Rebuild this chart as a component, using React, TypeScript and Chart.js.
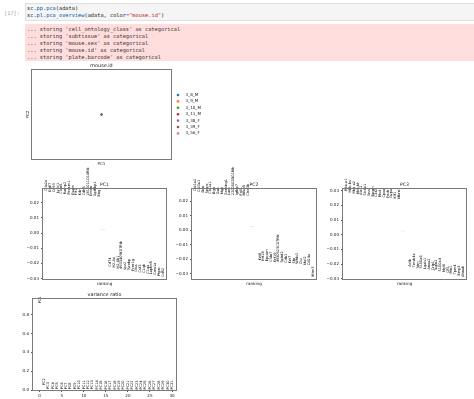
import React, { useEffect, useRef } from "react";
import { Chart, registerables } from "chart.js";

Chart.register(...registerables);

const FONT = '"DejaVu Sans", sans-serif';
const MONO = '"DejaVu Sans Mono", monospace';

// ---------------- data ----------------
const MOUSE_IDS = ["3_8_M", "3_9_M", "3_10_M", "3_11_M", "3_38_F", "3_39_F", "3_56_F"];
const MOUSE_COLORS = ["#1f77b4", "#ff7f0e", "#2ca02c", "#d62728", "#9467bd", "#8c564b", "#e377c2"];
const MOUSE_PC1 = [0, 0, 0, 0, 0, 0, 0];
const MOUSE_PC2 = [0, 0, 0, 0, 0, 0, 0];

const PC1_TOP_GENES = ["Ctla2a", "Egfl7", "Cd93", "Ly6c1", "Cldn5", "Ramp2", "Pecam1", "Esam", "Flt1", "Kdr", "Cdh5", "1810011O10Rik", "Emcn", "Gpihbp1", "Eng"];
const PC1_TOP_SCORES = [0.0276, 0.0272, 0.0268, 0.0264, 0.0259, 0.0256, 0.0254, 0.0252, 0.0251, 0.0249, 0.0248, 0.0246, 0.0245, 0.0243, 0.0241];
const PC1_LOW_GENES = ["Cd74", "H2-Aa", "H2-Ab1", "4933409K07Rik", "Lyz2", "Tyrobp", "Fcer1g", "Ctss", "Cst3", "C1qb", "C1qa", "Laptm5", "Coro1a", "Ptprc", "Cd52"];
const PC1_LOW_SCORES = [-0.0222, -0.0228, -0.0233, -0.0237, -0.0241, -0.0246, -0.0251, -0.0256, -0.026, -0.0264, -0.0268, -0.0272, -0.0277, -0.0283, -0.0289];

const PC2_TOP_GENES = ["Col1a2", "Col3a1", "Dcn", "Sparc", "Col1a1", "Bgn", "Gsn", "Mgp", "Serping1", "Lum", "2200002D01Rik", "Igfbp7", "Fstl1", "Mfap5", "Clec3b"];
const PC2_TOP_SCORES = [0.0269, 0.0262, 0.0258, 0.0254, 0.0251, 0.0249, 0.0247, 0.0246, 0.0244, 0.0243, 0.0241, 0.024, 0.0239, 0.0238, 0.0236];
const PC2_LOW_GENES = ["Krt8", "Krt18", "Epcam", "Cldn7", "Krt19", "4930523C07Rik", "Spint2", "Cdh1", "Krt7", "Sfn", "Wfdc2", "Clu", "Mal2", "Cd24a", "Ifitm3"];
const PC2_LOW_SCORES = [-0.0208, -0.0212, -0.0216, -0.0219, -0.0221, -0.0223, -0.0225, -0.0227, -0.0229, -0.0231, -0.0233, -0.0236, -0.0239, -0.0243, -0.0322];

const PC3_TOP_GENES = ["Hba-a1", "Hbb-bs", "Hba-a2", "Hbb-bt", "Alas2", "Slc4a1", "Snca", "Bpgm", "Car2", "Rhd", "Cpox", "Fech", "Gypa", "Klf1", "Mkrn1"];
const PC3_TOP_SCORES = [0.0297, 0.0288, 0.0281, 0.0276, 0.0271, 0.0267, 0.0264, 0.0261, 0.0258, 0.0256, 0.0254, 0.0252, 0.025, 0.0248, 0.0246];
const PC3_LOW_GENES = ["Actb", "Tmsb4x", "Vim", "S100a6", "Lgals1", "Anxa2", "Crip1", "Tagln2", "S100a4", "Myl6", "Cfl1", "Pfn1", "Tpm4", "Emp3", "Ahnak"];
const PC3_LOW_SCORES = [-0.0219, -0.0223, -0.0227, -0.0231, -0.0234, -0.0238, -0.0242, -0.0246, -0.025, -0.0255, -0.026, -0.0265, -0.0271, -0.0278, -0.0288];

const VAR_LABELS = ["PC1", "PC2", "PC3", "PC4", "PC5", "PC6", "PC7", "PC8", "PC9", "PC10", "PC11", "PC12", "PC13", "PC14", "PC15", "PC16", "PC17", "PC18", "PC19", "PC20", "PC21", "PC22", "PC23", "PC24", "PC25", "PC26", "PC27", "PC28", "PC29", "PC30", "PC31"];
const VAR_RATIO = [0.922, 0.052, 0.0118, 0.0102, 0.0094, 0.0088, 0.0083, 0.0079, 0.0076, 0.0073, 0.0071, 0.0069, 0.0067, 0.0065, 0.0063, 0.0062, 0.006, 0.0059, 0.0058, 0.0057, 0.0056, 0.0055, 0.0054, 0.0053, 0.0052, 0.0051, 0.005, 0.0049, 0.0048, 0.0047, 0.0046];

const LOAD_Y_TICKS = [-0.03, -0.02, -0.01, 0, 0.01, 0.02];
const PC3_Y_TICKS = [-0.03, -0.02, -0.01, 0, 0.01, 0.02, 0.03];
const VAR_Y_TICKS = [0, 0.2, 0.4, 0.6, 0.8];
const VAR_X_TICKS = [0, 5, 10, 15, 20, 25, 30];

const CODE_LINES = ['sc.pp.pca(adata)', 'sc.pl.pca_overview(adata, color="mouse.id")'];
const LOG_LINES = [
  "... storing 'cell_ontology_class' as categorical",
  "... storing 'subtissue' as categorical",
  "... storing 'mouse.sex' as categorical",
  "... storing 'mouse.id' as categorical",
  "... storing 'plate.barcode' as categorical",
];

// ---------------- helpers ----------------
type Box = { left: number; top: number; width: number; height: number };
type Axes = { L: number; T: number; R: number; B: number };

function txt(ctx: CanvasRenderingContext2D, s: string, x: number, y: number, size: number, opts: any = {}) {
  ctx.save();
  ctx.font = `${size}px ${FONT}`;
  ctx.fillStyle = opts.color || "#222";
  ctx.textAlign = opts.align || "center";
  ctx.textBaseline = opts.baseline || "middle";
  ctx.translate(x, y);
  if (opts.rotate) ctx.rotate(opts.rotate);
  ctx.fillText(s, 0, 0);
  ctx.restore();
}

function frame(ctx: CanvasRenderingContext2D, a: any) {
  ctx.save();
  ctx.strokeStyle = "#7a7a7a";
  ctx.lineWidth = 1;
  ctx.strokeRect(Math.round(a.left) - 0.5, Math.round(a.top) - 0.5, Math.round(a.right - a.left) + 1, Math.round(a.bottom - a.top) + 1);
  ctx.restore();
}

const rankTextPlugin = {
  id: "rankText",
  afterDatasetsDraw(chart: any) {
    const ctx = chart.ctx as CanvasRenderingContext2D;
    chart.data.datasets.forEach((ds: any, di: number) => {
      if (!ds.texts) return;
      const meta = chart.getDatasetMeta(di);
      meta.data.forEach((el: any, i: number) => {
        txt(ctx, ds.texts[i], el.x, el.y, ds.textSize || 3.5, {
          color: ds.textColor || "#000",
          align: "left",
          baseline: "middle",
          rotate: -Math.PI / 2,
        });
      });
    });
  },
};

function decor(fn: (ctx: CanvasRenderingContext2D, a: any) => void) {
  return {
    id: "decor",
    afterDraw(chart: any) {
      fn(chart.ctx, chart.chartArea);
    },
  };
}

function pad(c: Box, a: Axes, left0 = true) {
  return {
    left: left0 ? 0 : a.L - c.left,
    top: a.T - c.top,
    right: c.left + c.width - a.R,
    bottom: c.top + c.height - a.B,
  };
}

const fmt2 = (v: number) => (v < 0 ? "\u2212" : "") + Math.abs(v).toFixed(2);
const fmt1 = (v: number) => (v < 0 ? "\u2212" : "") + Math.abs(v).toFixed(1);

function yAxis(c: Box, a: Axes, min: number, max: number, ticks: number[], fmt: (v: number) => string) {
  return {
    type: "linear",
    min,
    max,
    afterFit: (s: any) => {
      s.width = a.L - c.left;
    },
    afterBuildTicks: (s: any) => {
      s.ticks = ticks.map((v) => ({ value: v }));
    },
    ticks: {
      autoSkip: false,
      font: { size: 4.1, family: FONT },
      color: "#222",
      padding: 2,
      callback: (v: any) => fmt(Number(v)),
    },
    grid: { display: true, drawOnChartArea: false, drawTicks: true, tickLength: 2, color: "#555", lineWidth: 1 },
    border: { display: false },
  };
}

function loadingConfig(
  title: string,
  topGenes: string[],
  topScores: number[],
  lowGenes: string[],
  lowScores: number[],
  yMin: number,
  yMax: number,
  yTicks: number[],
  c: Box,
  a: Axes
) {
  const n = topGenes.length;
  const mid = (topScores[n - 1] + lowScores[0]) / 2;
  const xMax = n + 2 + lowGenes.length - 1 + 0.9;
  return {
    type: "scatter",
    data: {
      datasets: [
        { data: topScores.map((y, i) => ({ x: i, y })), texts: topGenes, pointRadius: 0 },
        { data: [{ x: n, y: mid }], texts: ["\u22EE"], textColor: "#888", textSize: 3.5, pointRadius: 0 },
        { data: lowScores.map((y, i) => ({ x: n + 2 + i, y })), texts: lowGenes, pointRadius: 0 },
      ],
    },
    options: {
      animation: false,
      responsive: false,
      events: [],
      layout: { padding: pad(c, a) },
      plugins: { legend: { display: false }, tooltip: { enabled: false }, title: { display: false } },
      scales: {
        x: { type: "linear", display: false, min: -0.9, max: xMax },
        y: yAxis(c, a, yMin, yMax, yTicks, fmt2),
      },
    },
    plugins: [
      rankTextPlugin,
      decor((ctx, ar) => {
        frame(ctx, ar);
        const cx = (ar.left + ar.right) / 2;
        txt(ctx, title, cx, ar.top - 4.5, 4.6);
        txt(ctx, "ranking", cx, ar.bottom + 4.5, 4.1);
      }),
    ],
  };
}

// ---------------- panels ----------------
const SCATTER_BOX: Box = { left: 0, top: 60, width: 240, height: 110 };
const SCATTER_AX: Axes = { L: 32, T: 70, R: 171, B: 159 };
const PC1_BOX: Box = { left: 0, top: 165, width: 175, height: 125 };
const PC1_AX: Axes = { L: 43, T: 189, R: 166, B: 279 };
const PC2_BOX: Box = { left: 150, top: 165, width: 175, height: 125 };
const PC2_AX: Axes = { L: 192, T: 189, R: 316, B: 279 };
const PC3_BOX: Box = { left: 300, top: 165, width: 174, height: 125 };
const PC3_AX: Axes = { L: 343, T: 189, R: 466, B: 279 };
const VAR_BOX: Box = { left: 0, top: 290, width: 190, height: 109 };
const VAR_AX: Axes = { L: 33, T: 299, R: 176, B: 390 };

function scatterConfig() {
  const c = SCATTER_BOX, a = SCATTER_AX;
  return {
    type: "scatter",
    data: {
      datasets: MOUSE_IDS.map((id, i) => ({
        label: id,
        data: [{ x: MOUSE_PC1[i], y: MOUSE_PC2[i] }],
        backgroundColor: MOUSE_COLORS[i],
        borderWidth: 0,
        pointRadius: 0.9,
        order: i === 5 ? 0 : 1,
      })),
    },
    options: {
      animation: false,
      responsive: false,
      events: [],
      layout: { padding: pad(c, a, false) },
      plugins: { legend: { display: false }, tooltip: { enabled: false }, title: { display: false } },
      scales: {
        x: { type: "linear", display: false, min: -1, max: 1 },
        y: { type: "linear", display: false, min: -1, max: 1 },
      },
    },
    plugins: [
      decor((ctx, ar) => {
        frame(ctx, ar);
        const cx = (ar.left + ar.right) / 2;
        const cy = (ar.top + ar.bottom) / 2;
        txt(ctx, "mouse.id", cx, ar.top - 4.5, 4.9);
        txt(ctx, "PC1", cx, ar.bottom + 4.5, 4.1);
        txt(ctx, "PC2", ar.left - 4.5, cy, 4.1, { rotate: -Math.PI / 2 });
        MOUSE_IDS.forEach((id, i) => {
          const y = 95 - c.top + i * 6.4;
          ctx.save();
          ctx.fillStyle = MOUSE_COLORS[i];
          ctx.beginPath();
          ctx.arc(ar.right + 7, y, 1.3, 0, Math.PI * 2);
          ctx.fill();
          ctx.restore();
          txt(ctx, id, ar.right + 14.5, y, 4.1, { align: "left" });
        });
      }),
    ],
  };
}

function varConfig() {
  const c = VAR_BOX, a = VAR_AX;
  return {
    type: "scatter",
    data: {
      datasets: [{ data: VAR_RATIO.map((y, i) => ({ x: i, y })), texts: VAR_LABELS, pointRadius: 0 }],
    },
    options: {
      animation: false,
      responsive: false,
      events: [],
      layout: { padding: { left: 0, top: a.T - c.top, right: c.left + c.width - a.R, bottom: 0 } },
      plugins: { legend: { display: false }, tooltip: { enabled: false }, title: { display: false } },
      scales: {
        x: {
          type: "linear",
          min: -1.5,
          max: 30.9,
          afterFit: (s: any) => {
            s.height = c.top + c.height - a.B;
          },
          afterBuildTicks: (s: any) => {
            s.ticks = VAR_X_TICKS.map((v) => ({ value: v }));
          },
          ticks: { autoSkip: false, maxRotation: 0, font: { size: 4.1, family: FONT }, color: "#222", padding: 1, callback: (v: any) => String(v) },
          grid: { display: true, drawOnChartArea: false, drawTicks: true, tickLength: 2, color: "#555" },
          border: { display: false },
        },
        y: yAxis(c, a, 0, 0.968, VAR_Y_TICKS, fmt1),
      },
    },
    plugins: [
      rankTextPlugin,
      decor((ctx, ar) => {
        frame(ctx, ar);
        txt(ctx, "variance ratio", (ar.left + ar.right) / 2, ar.top - 4.5, 4.9);
      }),
    ],
  };
}

const PANELS: { box: Box; config: () => any }[] = [
  { box: SCATTER_BOX, config: scatterConfig },
  { box: PC1_BOX, config: () => loadingConfig("PC1", PC1_TOP_GENES, PC1_TOP_SCORES, PC1_LOW_GENES, PC1_LOW_SCORES, -0.0303, 0.029, LOAD_Y_TICKS, PC1_BOX, PC1_AX) },
  { box: PC2_BOX, config: () => loadingConfig("PC2", PC2_TOP_GENES, PC2_TOP_SCORES, PC2_LOW_GENES, PC2_LOW_SCORES, -0.0338, 0.0283, LOAD_Y_TICKS, PC2_BOX, PC2_AX) },
  { box: PC3_BOX, config: () => loadingConfig("PC3", PC3_TOP_GENES, PC3_TOP_SCORES, PC3_LOW_GENES, PC3_LOW_SCORES, -0.0302, 0.0312, PC3_Y_TICKS, PC3_BOX, PC3_AX) },
  { box: VAR_BOX, config: varConfig },
];

function CodeLine({ text }: { text: string }) {
  const parts: React.ReactNode[] = [];
  const re = /("[^"]*")|(=)|(\.[a-z_]+)/g;
  let last = 0;
  let m: RegExpExecArray | null;
  let k = 0;
  while ((m = re.exec(text))) {
    if (m.index > last) parts.push(<span key={k++}>{text.slice(last, m.index)}</span>);
    if (m[1]) parts.push(<span key={k++} style={{ color: "#ba2121" }}>{m[1]}</span>);
    else if (m[2]) parts.push(<span key={k++} style={{ color: "#aa22ff" }}>{m[2]}</span>);
    else if (m[3]) {
      parts.push(<span key={k++}>.</span>);
      parts.push(<span key={k++} style={{ color: "#0055aa" }}>{m[3].slice(1)}</span>);
    }
    last = m.index + m[0].length;
  }
  if (last < text.length) parts.push(<span key={k++}>{text.slice(last)}</span>);
  return <>{parts}</>;
}

export default function App() {
  const r0 = useRef<HTMLCanvasElement>(null);
  const r1 = useRef<HTMLCanvasElement>(null);
  const r2 = useRef<HTMLCanvasElement>(null);
  const r3 = useRef<HTMLCanvasElement>(null);
  const r4 = useRef<HTMLCanvasElement>(null);
  const refs = [r0, r1, r2, r3, r4];

  useEffect(() => {
    const charts = PANELS.map((p, i) => new Chart(refs[i].current as HTMLCanvasElement, p.config()));
    return () => charts.forEach((c) => c.destroy());
  }, []);

  const mono: React.CSSProperties = { position: "absolute", fontFamily: MONO, fontSize: 5.3, lineHeight: "7px", height: 7, whiteSpace: "pre", color: "#212121" };

  return (
    <div style={{ position: "absolute", left: 0, top: 0, width: 474, height: 399, overflow: "hidden", background: "#fff" }}>
      <div style={{ ...mono, left: 4, top: 9.5, color: "#9e9e9e" }}>[17]:</div>
      <div style={{ position: "absolute", left: 25, top: 3, width: 460, height: 18, background: "#f5f5f5", border: "1px solid #e0e0e0", boxSizing: "border-box" }} />
      {CODE_LINES.map((l, i) => (
        <div key={i} style={{ ...mono, left: 27, top: 4.8 + i * 7.3 }}>
          <CodeLine text={l} />
        </div>
      ))}
      <div style={{ position: "absolute", left: 25, top: 24, width: 460, height: 37, background: "#fdd" }} />
      {LOG_LINES.map((l, i) => (
        <div key={i} style={{ ...mono, left: 27, top: 25.8 + i * 7, color: "#333" }}>
          {l}
        </div>
      ))}
      {PANELS.map((p, i) => (
        <canvas
          key={i}
          ref={refs[i]}
          width={p.box.width}
          height={p.box.height}
          style={{ position: "absolute", left: p.box.left, top: p.box.top, width: p.box.width, height: p.box.height, display: "block" }}
        />
      ))}
    </div>
  );
}
